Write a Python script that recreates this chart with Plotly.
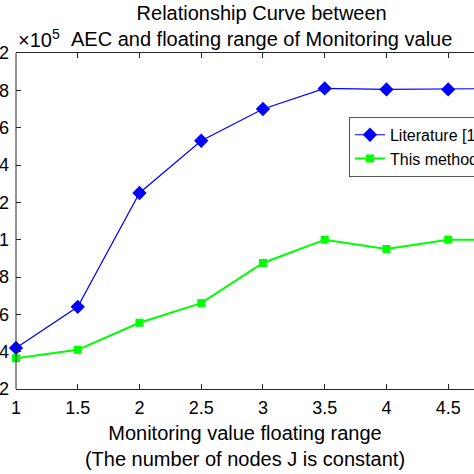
import plotly.graph_objects as go

# monitoring value floating range
x_vals = [1, 1.5, 2, 2.5, 3, 3.5, 4, 4.5, 5]
# AEC values (x10^5)
literature = [0.42, 0.64, 1.25, 1.53, 1.70, 1.81, 1.805, 1.805, 1.81]
this_method = [0.365, 0.41, 0.555, 0.66, 0.875, 1.0, 0.95, 1.0, 1.0]

x_ticks = [1, 1.5, 2, 2.5, 3, 3.5, 4, 4.5]
x_labels = ["1", "1.5", "2", "2.5", "3", "3.5", "4", "4.5"]
y_ticks = [0.2, 0.4, 0.6, 0.8, 1.0, 1.2, 1.4, 1.6, 1.8, 2.0]
y_labels = ["0.2", "0.4", "0.6", "0.8", "1", "1.2", "1.4", "1.6", "1.8", "2"]

font = "Liberation Sans, Arial, sans-serif"
axis_col = "#262626"

fig = go.Figure()

fig.add_trace(go.Scatter(
    x=x_vals, y=literature, name="Literature [12]",
    mode="lines+markers", cliponaxis=False,
    line=dict(color="#0000ff", width=1.2),
    marker=dict(symbol="diamond", size=11, color="#0000ff"),
))
fig.add_trace(go.Scatter(
    x=x_vals, y=this_method, name="This method",
    mode="lines+markers", cliponaxis=False,
    line=dict(color="#00ff00", width=2),
    marker=dict(symbol="square", size=8, color="#00ff00"),
))

fig.update_layout(
    width=474, height=474,
    margin=dict(l=16, r=0, t=53, b=85, autoexpand=False),
    plot_bgcolor="white", paper_bgcolor="white",
    font=dict(family=font, size=18, color="black"),
    showlegend=True,
    legend=dict(
        x=0.727, y=0.81, xanchor="left", yanchor="top",
        bordercolor="#555555", borderwidth=1, bgcolor="white",
        font=dict(size=16), tracegroupgap=0,
    ),
    annotations=[
        dict(text="Relationship Curve between<br>AEC and floating range of Monitoring value",
             xref="paper", yref="paper", x=0.535, y=1, xanchor="center", yanchor="bottom",
             showarrow=False, font=dict(size=20), yshift=1),
        dict(text="×10<sup>5</sup>", xref="paper", yref="paper",
             x=0, y=1, xanchor="left", yanchor="bottom", showarrow=False,
             font=dict(size=20), yshift=0),
    ],
    # left spine drawn as a shape so the tick labels can sit close to it
    shapes=[dict(type="line", xref="paper", yref="paper", x0=0, x1=0, y0=0, y1=1,
                 line=dict(color=axis_col, width=1), layer="above")],
    xaxis=dict(
        range=[1, 4.709], tickvals=x_ticks, ticktext=x_labels,
        showline=True, linecolor=axis_col, linewidth=1, mirror="ticks",
        ticks="inside", ticklen=5, tickcolor=axis_col,
        showgrid=False, zeroline=False, automargin=False,
        ticklabelstandoff=2,
        title=dict(text="Monitoring value floating range<br>(The number of nodes J is constant)",
                   font=dict(size=20), standoff=9),
    ),
    yaxis=dict(
        range=[0.2, 2.0], tickvals=y_ticks, ticktext=y_labels,
        showline=False,
        ticks="inside", ticklen=5, tickcolor=axis_col,
        showgrid=False, zeroline=False, automargin=False,
        ticklabelstandoff=6,
    ),
)

# the figure fills the whole window, like the cropped original
fig.write_html("out.html", config={"displayModeBar": False},
               post_script="document.body.style.margin = '0';")
